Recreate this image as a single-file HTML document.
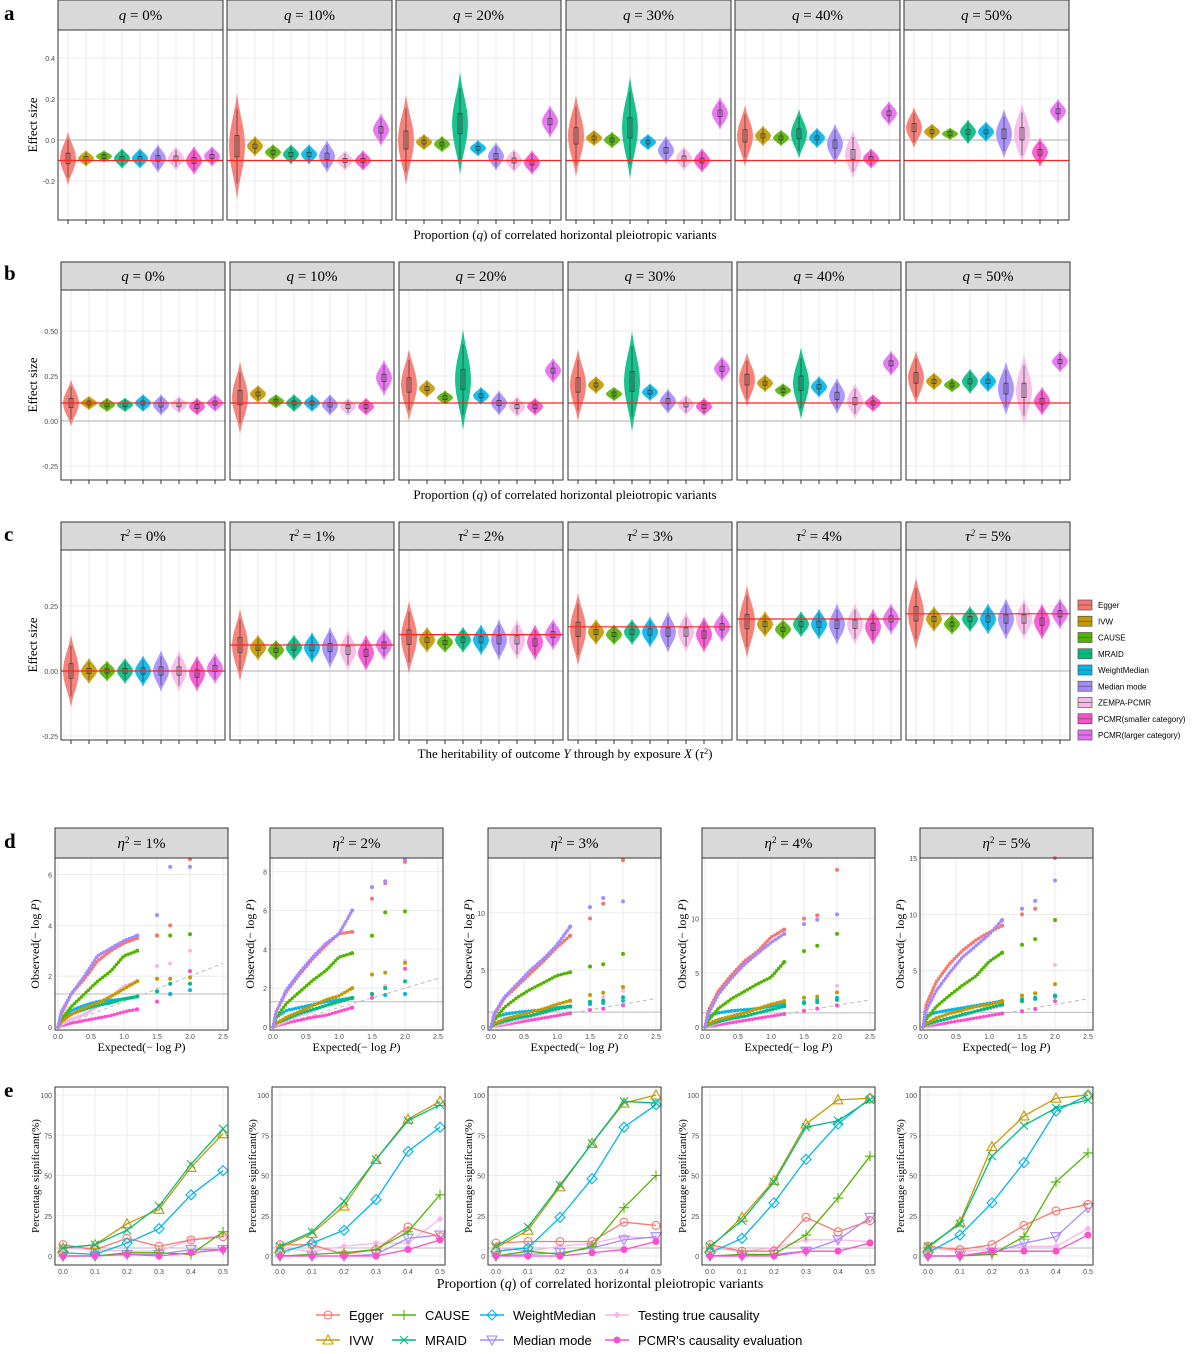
<!DOCTYPE html>
<html><head><meta charset="utf-8">
<style>
body{margin:0;background:#fff;}
svg{display:block;}
text{font-family:"Liberation Sans",sans-serif;}
.serif{font-family:"Liberation Serif",serif;}
</style></head>
<body>
<svg id="fig" width="1200" height="1354" xmlns="http://www.w3.org/2000/svg"></svg>
<script>
const methods=["Egger","IVW","CAUSE","MRAID","WeightMedian","Median mode","ZEMPA-PCMR","PCMR(smaller category)","PCMR(larger category)"];
const cols=["#F8766D","#C59900","#53B400","#00BC81","#00B6EB","#A58AFF","#F7B8E8","#FB4FCF","#E76BF3"];
const aStrips=["0%","10%","20%","30%","40%","50%"];
const cStrips=["0%","1%","2%","3%","4%","5%"];
const aMed=[[-0.09,-0.09,-0.08,-0.09,-0.09,-0.09,-0.09,-0.1,-0.08],[-0.03,-0.03,-0.06,-0.07,-0.07,-0.08,-0.1,-0.1,0.05],[0.0,-0.01,-0.02,0.08,-0.04,-0.08,-0.1,-0.11,0.09],[0.02,0.01,0.0,0.06,-0.01,-0.05,-0.09,-0.1,0.13],[0.02,0.02,0.01,0.03,0.01,-0.02,-0.07,-0.09,0.13],[0.06,0.04,0.03,0.04,0.04,0.03,0.03,-0.06,0.14]];
const aSpr=[[.13,.04,.03,.05,.05,.07,.06,.07,.05],[.26,.05,.04,.05,.05,.08,.05,.05,.08],[.22,.04,.04,.25,.04,.07,.06,.06,.08],[.2,.04,.04,.25,.04,.07,.06,.06,.08],[.15,.05,.04,.12,.05,.1,.12,.05,.06],[.1,.04,.03,.06,.05,.12,.15,.07,.06]];
const bMed=[[0.1,0.1,0.09,0.09,0.1,0.09,0.09,0.08,0.1],[0.13,0.15,0.11,0.1,0.1,0.09,0.08,0.08,0.24],[0.2,0.18,0.13,0.23,0.14,0.1,0.08,0.08,0.28],[0.2,0.2,0.15,0.22,0.16,0.11,0.09,0.08,0.29],[0.23,0.21,0.17,0.21,0.19,0.14,0.11,0.1,0.32],[0.24,0.22,0.2,0.22,0.22,0.18,0.17,0.11,0.33]];
const bSpr=[[.13,.04,.04,.04,.05,.06,.05,.05,.05],[.2,.05,.04,.05,.05,.06,.05,.05,.1],[.2,.05,.04,.28,.05,.07,.06,.05,.07],[.2,.05,.04,.28,.05,.07,.06,.05,.07],[.15,.05,.04,.2,.06,.1,.1,.05,.07],[.15,.05,.04,.07,.06,.15,.2,.08,.06]];
const cMed=[[0,0,0,0,0,0,0,-0.01,0.01],[.1,.09,.08,.09,.09,.09,.08,.07,.1],[.13,.12,.11,.12,.12,.12,.12,.11,.14],[.16,.15,.14,.15,.15,.15,.15,.14,.17],[.19,.18,.16,.18,.18,.18,.18,.17,.2],[.22,.2,.18,.2,.2,.2,.2,.19,.22]];
const cSpr=[.14,.05,.04,.05,.06,.08,.08,.07,.06];
const aTrue=-0.1, bTrue=0.1;
const cTrue=[0,0.1,0.14,0.17,0.2,0.22];
const aTicks=[0.4,0.2,0.0,-0.2];
const bTicks=[0.5,0.25,0,-0.25];
const cTicks=[0.25,0,-0.25];
const bTickLabels=["0.50","0.25","0.00","-0.25"];
const cTickLabels=["0.25","0.00","-0.25"];
const aTickLabels=["0.4","0.2","0.0","-0.2"];

const dStrips=["1%","2%","3%","4%","5%"];
const dExp=[0.05,0.2,0.4,0.6,0.8,1.0,1.2,1.5,1.7,2.0];
const dMax=[6.65,8.7,14.8,15.6,15.0];
const dTicks=[[0,2,4,6],[0,2,4,6,8],[0,5,10],[0,5,10],[0,5,10,15]];
const dObs=[
[[0.5,1.3,1.9,2.6,3.0,3.3,3.5,3.6,4.0,6.6],[0.2,0.5,0.75,0.95,1.2,1.5,1.8,1.9,1.9,1.95],[0.3,0.8,1.3,1.8,2.2,2.8,3.0,3.6,3.6,3.65],[0.2,0.5,0.7,0.85,0.95,1.1,1.2,1.4,1.7,1.7],[0.3,0.65,0.85,1.0,1.05,1.1,1.2,1.4,1.3,1.45],[0.6,1.3,2.0,2.8,3.1,3.4,3.6,4.4,6.3,6.3],[0.1,0.3,0.5,0.8,1.2,1.6,1.8,2.4,2.5,3.0],[0.05,0.15,0.25,0.35,0.45,0.6,0.7,1.0,1.3,2.2]],
[[0.8,1.8,2.7,3.5,4.2,4.8,4.9,6.6,7.4,8.5],[0.2,0.5,0.8,1.1,1.4,1.6,2.0,2.7,2.8,3.3],[0.5,1.2,1.8,2.4,2.9,3.6,3.8,4.7,5.9,5.95],[0.2,0.4,0.7,0.9,1.1,1.3,1.5,1.7,2.0,2.35],[0.5,0.85,1.0,1.15,1.3,1.4,1.5,1.7,1.65,1.7],[0.8,1.9,2.8,3.6,4.3,4.8,6.0,7.2,7.5,8.6],[0.1,0.3,0.6,0.8,1.1,1.3,1.5,1.7,2.1,3.4],[0.05,0.2,0.35,0.5,0.6,0.8,1.0,1.5,2.1,3.0]],
[[1.0,2.5,3.6,4.7,5.8,7.0,8.0,9.5,10.8,14.6],[0.3,0.7,1.0,1.3,1.6,2.0,2.3,2.8,3.0,3.5],[0.6,1.7,2.6,3.3,3.9,4.5,4.8,5.3,5.5,6.4],[0.2,0.5,0.8,1.0,1.3,1.6,1.8,2.2,2.3,2.6],[0.8,1.1,1.3,1.4,1.5,1.7,1.8,2.0,2.1,2.3],[1.2,2.6,3.8,5.0,6.0,7.2,8.8,10.5,11.3,11.0],[0.1,0.3,0.6,0.9,1.2,1.5,1.8,2.2,2.6,3.2],[0.05,0.2,0.4,0.6,0.8,1.0,1.2,1.5,1.6,1.9]],
[[1.5,3.3,4.8,6.1,7.0,8.3,9.0,10.0,10.3,14.5],[0.3,0.7,1.0,1.3,1.7,2.1,2.4,2.7,2.8,3.2],[0.6,1.7,2.6,3.3,4.0,4.6,6.0,7.0,7.5,8.6],[0.2,0.5,0.8,1.0,1.3,1.6,1.9,2.2,2.3,2.5],[1.0,1.3,1.5,1.6,1.7,1.9,2.1,2.3,2.5,2.7],[1.2,3.0,4.5,5.8,6.8,7.8,8.6,9.5,9.9,10.4],[0.1,0.4,0.7,1.0,1.3,1.6,1.9,2.3,2.6,3.8],[0.05,0.2,0.4,0.6,0.8,1.0,1.2,1.5,1.7,2.0]],
[[2.0,4.0,5.6,6.8,7.7,8.4,9.0,10.0,10.5,15.0],[0.3,0.8,1.2,1.5,1.8,2.0,2.3,2.8,3.0,3.8],[0.7,1.8,2.8,3.7,4.5,5.8,6.6,7.3,7.8,9.5],[0.2,0.5,0.8,1.1,1.4,1.7,2.0,2.3,2.5,2.7],[1.0,1.3,1.5,1.7,1.9,2.1,2.3,2.5,2.6,2.8],[1.5,3.2,4.8,6.2,7.2,8.2,9.5,10.5,11.2,13.0],[0.1,0.4,0.7,1.0,1.3,1.6,1.9,2.3,2.6,5.5],[0.05,0.2,0.4,0.6,0.8,1.0,1.2,1.4,1.6,2.3]]];
const dXTicks=[0,0.5,1,1.5,2,2.5];
const dXTickLabels=["0.0","0.5","1.0","1.5","2.0","2.5"];

const eNames=["Egger","IVW","CAUSE","MRAID","WeightMedian","Median mode","Testing true causality","PCMR's causality evaluation"];
const eCols=["#F8766D","#C59900","#53B400","#00BC81","#00B6EB","#A58AFF","#F7B8E8","#FB4FCF"];
const eX=[0,0.1,0.2,0.3,0.4,0.5];
const eXLabels=["0.0","0.1","0.2","0.3","0.4","0.5"];
const eYTicks=[0,25,50,75,100];
const eVals=[
[[7,4,11,6,10,12],[5,7,20,29,55,76],[0,0,2,2,1,15],[5,7,16,31,57,79],[2,1,8,17,38,53],[0,0,1,1,4,4],[5,4,3,3,10,13],[0,0,1,0,2,4]],
[[7,7,1,4,18,12],[5,14,31,60,85,96],[0,1,2,4,15,38],[6,15,34,60,84,94],[2,8,16,35,65,80],[0,0,0,1,11,13],[5,3,6,8,8,23],[0,0,0,0,4,10]],
[[8,9,9,9,21,19],[5,16,43,70,95,100],[0,3,1,6,30,50],[6,18,44,70,96,95],[3,5,24,48,80,94],[0,1,2,5,10,12],[5,3,6,8,12,11],[0,0,0,2,4,9]],
[[7,3,3,24,15,22],[5,24,47,82,97,98],[0,1,1,13,36,62],[6,22,46,80,84,97],[2,11,33,60,82,98],[0,0,1,3,10,24],[5,3,5,10,10,9],[0,0,0,3,3,8]],
[[6,4,7,19,28,32],[5,21,68,87,98,100],[0,0,1,12,46,64],[6,20,62,81,92,97],[2,13,33,58,90,100],[0,0,2,8,12,30],[5,3,4,6,6,17],[0,0,3,3,3,13]]];

const NS="http://www.w3.org/2000/svg";
const svg=document.getElementById('fig');
function mk(tag,attrs,parent,name){const e=document.createElementNS(NS,tag);for(const k in attrs)e.setAttribute(k,attrs[k]);


(parent||svg).appendChild(e);return e;}
function txt(x,y,s,attrs,name,parent){const t=mk('text',Object.assign({x:x,y:y},attrs||{}),parent,name);t.textContent=s;return t;}
function strip(x,y,w,h,label,name){mk('rect',{x:x,y:y,width:w,height:h,fill:'#D9D9D9',stroke:'#333','stroke-width':1},null,name);
const t=mk('text',{x:x+w/2,y:y+h/2+5,'text-anchor':'middle','font-size':15,class:'serif'},null,name+'-label');t.innerHTML=label;}

function violinPanel(key,x0s,w,sTop,pTop,pBot,yf,ticks,tickLabels,med,sprFn,trueFn,stripLabels,sym,title,titleY){
  x0s.forEach((x0,f)=>{
    strip(x0,sTop,w,pTop-sTop,'<tspan font-style="italic">'+sym+'</tspan> = '+stripLabels[f],key+'-strip-'+f);
    const g=mk('g',{},null,key+'-facet-'+f);
    mk('rect',{x:x0,y:pTop,width:w,height:pBot-pTop,fill:'#fff'},g,'panel-bg');
    ticks.forEach(t=>{const y=yf(t);mk('line',{x1:x0,x2:x0+w,y1:y,y2:y,stroke:'#EBEBEB'},g,'grid-y');});
    for(let i=0;i<9;i++){const x=x0+10+i*18;mk('line',{x1:x,x2:x,y1:pTop,y2:pBot,stroke:'#EBEBEB'},g,'grid-x');
      mk('line',{x1:x,x2:x,y1:pBot,y2:pBot+4,stroke:'#333'},g,'x-tick');}
    mk('line',{x1:x0,x2:x0+w,y1:yf(0),y2:yf(0),stroke:'#BEBEBE','stroke-width':1.2},g,'zero-line');
    for(let i=0;i<9;i++){
      const x=x0+10+i*18,m=med[f][i],s=sprFn(f,i);
      const yt=yf(m+s),yb=yf(m-s),yc=yf(m);const hw=8;
      let d='M'+x+','+yt;const N=16;
      for(let k=0;k<=N;k++){const tt=k/N,y=yt+(yb-yt)*tt,u=2*tt-1;const ww=hw*Math.pow(1-u*u,0.9)*Math.exp(-1.2*u*u);d+=' L'+(x+ww).toFixed(1)+','+y.toFixed(1);}
      for(let k=N;k>=0;k--){const tt=k/N,y=yt+(yb-yt)*tt,u=2*tt-1;const ww=hw*Math.pow(1-u*u,0.9)*Math.exp(-1.2*u*u);d+=' L'+(x-ww).toFixed(1)+','+y.toFixed(1);}
      mk('path',{d:d+'Z',fill:cols[i],opacity:0.9},g,'violin-'+methods[i]);
      mk('line',{x1:x,x2:x,y1:yf(m+s*0.7),y2:yf(m-s*0.7),stroke:'#333','stroke-width':0.7},g,'whisker');
      const bh=Math.max(4,Math.abs(yb-yt)*0.2);
      mk('rect',{x:x-2,y:yc-bh/2,width:4,height:bh,fill:'none',stroke:'#333','stroke-width':0.7},g,'box');
    }
    mk('line',{x1:x0,x2:x0+w,y1:yf(trueFn(f)),y2:yf(trueFn(f)),stroke:'#F22','stroke-width':1.2},g,'true-effect-line');
    mk('rect',{x:x0,y:pTop,width:w,height:pBot-pTop,fill:'none',stroke:'#333'},g,'panel-border');
  });
  ticks.forEach((t,i)=>txt(x0s[0]-3,yf(t)+3,tickLabels[i],{'text-anchor':'end','font-size':7,fill:'#4D4D4D'},key+'-y-tick-label'));
  const yt=mk('text',{x:0,y:0,transform:'translate(37,'+((pTop+pBot)/2)+') rotate(-90)','text-anchor':'middle','font-size':13,class:'serif'},null,key+'-y-axis-title');yt.textContent='Effect size';
  const xt=mk('text',{x:565,y:titleY,'text-anchor':'middle','font-size':13,class:'serif'},null,key+'-x-axis-title');xt.innerHTML=title;
}
violinPanel('a',[58,227,396,566,735,904],165,0,30,220,v=>140-v*205,aTicks,aTickLabels,aMed,(f,i)=>aSpr[f][i],f=>aTrue,aStrips,'q',
 'Proportion (<tspan font-style="italic">q</tspan>) of correlated horizontal pleiotropic variants',239);
violinPanel('b',[61,230,399,568,737,906],164,262,290,480,v=>421-v*180,bTicks,bTickLabels,bMed,(f,i)=>bSpr[f][i],f=>bTrue,aStrips,'q',
 'Proportion (<tspan font-style="italic">q</tspan>) of correlated horizontal pleiotropic variants',499);
violinPanel('c',[61,230,399,568,737,906],164,522,550,740,v=>671-v*260,cTicks,cTickLabels,cMed,(f,i)=>cSpr[i],f=>cTrue[f],cStrips,'τ<tspan baseline-shift="super" font-size="9">2</tspan>',
 'The heritability of outcome <tspan font-style="italic">Y</tspan> through by exposure <tspan font-style="italic">X</tspan> (<tspan font-style="italic">τ</tspan><tspan baseline-shift="super" font-size="8">2</tspan>)',758);
methods.forEach((m,i)=>{const y=605+i*16.25;
  mk('rect',{x:1078,y:y-5,width:14,height:10,fill:cols[i],stroke:'#555','stroke-width':0.7},null,'legend-key-'+m);
  mk('line',{x1:1078,x2:1092,y1:y,y2:y,stroke:'#555','stroke-width':0.7},null,'legend-key-line');
  txt(1098,y+3,m,{'font-size':8},'legend-entry-'+m);});

[['a',20],['b',280],['c',541],['d',848],['e',1097]].forEach(p=>txt(4,p[1],p[0],{'font-size':21,'font-weight':'bold',class:'serif'},'panel-label-'+p[0]));

// panel d
const dX0=[55,270,488,702,920],dW=173,dTop=858,dBot=1030;
dX0.forEach((x0,f)=>{
  strip(x0,828,dW,30,'<tspan font-style="italic">η</tspan><tspan baseline-shift="super" font-size="9">2</tspan> = '+dStrips[f],'d-strip-'+f);
  const g=mk('g',{},null,'d-facet-'+f);
  const xf=v=>x0+3+v*66, yf=v=>1027-v*(1027-dTop)/dMax[f];
  mk('rect',{x:x0,y:dTop,width:dW,height:dBot-dTop,fill:'#fff'},g,'panel-bg');
  dXTicks.forEach((t,i)=>{mk('line',{x1:xf(t),x2:xf(t),y1:dTop,y2:dBot,stroke:'#EBEBEB'},g,'grid-x');
    txt(xf(t),dBot+9,dXTickLabels[i],{'text-anchor':'middle','font-size':7,fill:'#4D4D4D'},'d-x-tick-label',g);});
  dTicks[f].forEach(t=>{mk('line',{x1:x0,x2:x0+dW,y1:yf(t),y2:yf(t),stroke:'#EBEBEB'},g,'grid-y');
    txt(x0-3,yf(t)+3,String(t),{'text-anchor':'end','font-size':7,fill:'#4D4D4D'},'d-y-tick-label',g);});
  mk('line',{x1:x0,x2:x0+dW,y1:yf(1.3),y2:yf(1.3),stroke:'#BBB'},g,'significance-line');
  mk('line',{x1:xf(0),x2:xf(2.5),y1:yf(0),y2:yf(2.5),stroke:'#BBB','stroke-dasharray':'4 3'},g,'diagonal-line');
  [7,6,4,3,1,2,0,5].forEach(mi=>{
    const arr=dObs[f][mi];let d='M'+xf(0)+','+yf(0);
    dExp.forEach((e,k)=>{if(k<=6)d+=' L'+xf(e).toFixed(1)+','+yf(arr[k]).toFixed(1);});
    mk('path',{d:d,fill:'none',stroke:cols[mi],'stroke-width':3.5,'stroke-linecap':'round','stroke-dasharray':'0 3.2'},g,'qq-series-'+methods[mi]);
    dExp.forEach((e,k)=>{if(k>=6)mk('circle',{cx:xf(e),cy:yf(arr[k]),r:2,fill:cols[mi]},g,'qq-point');});
  });
  mk('rect',{x:x0,y:dTop,width:dW,height:dBot-dTop,fill:'none',stroke:'#333'},g,'panel-border');
  const xt=mk('text',{x:x0+dW/2,y:1051,'text-anchor':'middle','font-size':12,class:'serif'},null,'d-x-axis-title');xt.innerHTML='Expected(− log <tspan font-style="italic">P</tspan>)';
  const yt=mk('text',{x:0,y:0,transform:'translate('+(x0-16)+','+((dTop+dBot)/2)+') rotate(-90)','text-anchor':'middle','font-size':12,class:'serif'},null,'d-y-axis-title');yt.innerHTML='Observed(− log <tspan font-style="italic">P</tspan>)';
});

// panel e
const eX0=[55,272,488,702,920],eTop=1087,eBot=1265;
function marker(g,mi,x,y){const c=eCols[mi];const st={fill:'none',stroke:c,'stroke-width':1.1};
  if(mi===0)mk('circle',Object.assign({cx:x,cy:y,r:4},st),g,'marker-circle');
  else if(mi===1)mk('path',Object.assign({d:`M${x},${y-5}L${x+5},${y+4}L${x-5},${y+4}Z`},st),g,'marker-triangle');
  else if(mi===2)mk('path',Object.assign({d:`M${x-5},${y}H${x+5}M${x},${y-5}V${y+5}`},st),g,'marker-plus');
  else if(mi===3)mk('path',Object.assign({d:`M${x-4},${y-4}L${x+4},${y+4}M${x-4},${y+4}L${x+4},${y-4}`},st),g,'marker-x');
  else if(mi===4)mk('path',Object.assign({d:`M${x},${y-5}L${x+5},${y}L${x},${y+5}L${x-5},${y}Z`},st),g,'marker-diamond');
  else if(mi===5)mk('path',Object.assign({d:`M${x},${y+5}L${x+5},${y-4}L${x-5},${y-4}Z`},st),g,'marker-down-triangle');
  else if(mi===6)mk('path',{d:`M${x},${y-3.5}L${x+3.5},${y}L${x},${y+3.5}L${x-3.5},${y}Z`,fill:c},g,'marker-filled-diamond');
  else mk('circle',{cx:x,cy:y,r:3.5,fill:c},g,'marker-filled-circle');}
eX0.forEach((x0,f)=>{
  const g=mk('g',{},null,'e-facet-'+f);
  const xf=v=>x0+8+v*320, yf=v=>1256-v*1.61;
  mk('rect',{x:x0,y:eTop,width:dW,height:eBot-eTop,fill:'#fff'},g,'panel-bg');
  eX.forEach((t,i)=>{mk('line',{x1:xf(t),x2:xf(t),y1:eTop,y2:eBot,stroke:'#EBEBEB'},g,'grid-x');
    txt(xf(t),eBot+9,eXLabels[i],{'text-anchor':'middle','font-size':7,fill:'#4D4D4D'},'e-x-tick-label',g);});
  eYTicks.forEach(t=>{mk('line',{x1:x0,x2:x0+dW,y1:yf(t),y2:yf(t),stroke:'#EBEBEB'},g,'grid-y');
    txt(x0-3,yf(t)+3,String(t),{'text-anchor':'end','font-size':7,fill:'#4D4D4D'},'e-y-tick-label',g);});
  mk('line',{x1:x0,x2:x0+dW,y1:yf(5),y2:yf(5),stroke:'#BBB'},g,'alpha-line');
  [6,5,0,2,4,1,3,7].forEach(mi=>{const v=eVals[f][mi];
    mk('polyline',{points:eX.map((x,k)=>xf(x)+','+yf(v[k])).join(' '),fill:'none',stroke:eCols[mi],'stroke-width':1.3},g,'e-line-'+eNames[mi]);
    eX.forEach((x,k)=>marker(g,mi,xf(x),yf(v[k])));});
  mk('rect',{x:x0,y:eTop,width:dW,height:eBot-eTop,fill:'none',stroke:'#333'},g,'panel-border');
  const yt=mk('text',{x:0,y:0,transform:'translate('+(x0-16)+','+((eTop+eBot)/2)+') rotate(-90)','text-anchor':'middle','font-size':11,class:'serif'},null,'e-y-axis-title');yt.textContent='Percentage significant(%)';
});
const ex=mk('text',{x:600,y:1288,'text-anchor':'middle','font-size':14,class:'serif'},null,'e-x-axis-title');ex.innerHTML='Proportion (<tspan font-style="italic">q</tspan>) of correlated horizontal pleiotropic variants';
const legPos=[[316,1315],[316,1340],[392,1315],[392,1340],[480,1315],[480,1340],[605,1315],[605,1340]];
[0,1,2,3,4,5,6,7].forEach(mi=>{const p=legPos[mi];const g=mk('g',{},null,'legend-entry-'+eNames[mi]);
  mk('line',{x1:p[0],x2:p[0]+24,y1:p[1],y2:p[1],stroke:eCols[mi],'stroke-width':1.5},g,'legend-line');
  marker(g,mi,p[0]+12,p[1]);
  txt(p[0]+33,p[1]+5,eNames[mi],{'font-size':13},'legend-label',g);});
</script>
</body></html>
